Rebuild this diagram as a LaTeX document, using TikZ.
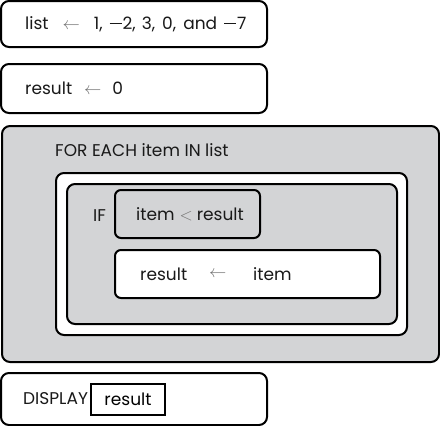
\documentclass[tikz,border=0pt]{standalone}
\usepackage{fontspec}
\setmainfont{Poppins}
\usepackage{tikz}
\usetikzlibrary{positioning}
\definecolor{blockgray}{RGB}{211,212,214}
\newcommand{\getsarrow}{\textcolor{black!55}{$\leftarrow$}}
\newcommand{\mns}{\rule[5pt]{12pt}{1.4pt}\hspace{1pt}}

\begin{document}
\begin{tikzpicture}[x=1pt, y=-1pt, font=\fontsize{17}{20}\selectfont,
  block/.style={draw, line width=2pt, rounded corners=8pt, fill=white, inner sep=0pt},
  grayblock/.style={block, fill=blockgray},
  plainbox/.style={draw, line width=2pt, fill=white, inner sep=0pt},
  txt/.style={anchor=west, inner sep=0pt, text=black!90}]

  \useasboundingbox (0,0) rectangle (440,426);

  % Assignment blocks on top
  \node[block, minimum width=266pt, minimum height=46pt] (LST) at (134,24) {};
  \node[block, minimum width=266pt, minimum height=49pt] (RES) at (134,88.5) {};
  \node[txt] (LSTt) at (25,24) {list\hspace{14pt}\getsarrow\hspace{14pt}1,\hspace{7pt}\mns 2,\hspace{6pt}3,\hspace{7pt}0,\hspace{7pt}and\hspace{7pt}\mns 7};
  \node[txt] (RESt) at (25,88.5) {result\hspace{12pt}\getsarrow\hspace{11pt}0};

  % Loop block with nested IF
  \node[grayblock, minimum width=437pt, minimum height=236pt] (LOOP) at (220.5,244) {};
  \node[txt] (LOOPt) at (55,150) {FOR EACH item IN list};
  \node[block, minimum width=351pt, minimum height=162pt] (FRAME) at (231.5,254) {};
  \node[grayblock, minimum width=330pt, minimum height=140pt] (IFB) at (232,254) {};
  \node[txt] (IFt) at (93,216) {IF};
  \node[grayblock, rounded corners=6pt, minimum width=145pt, minimum height=48pt] (COND) at (187.5,214) {};
  \node[txt] (CONDt) at (136,214) {item\hspace{5pt}\textcolor{black!55}{$<$}\hspace{4pt}result};
  \node[block, rounded corners=6pt, minimum width=265pt, minimum height=48pt] (ASG) at (247.5,274) {};
  \node[txt] (ASGa) at (140,274) {result};
  \node[txt] (ASGb) at (209,274) {\getsarrow};
  \node[txt] (ASGc) at (253,274) {item};

  % Display block
  \node[block, minimum width=266pt, minimum height=52pt] (DSP) at (134,399) {};
  \node[txt] (DSPt) at (23,399) {DISPLAY};
  \node[plainbox, minimum width=74pt, minimum height=31pt] (DSPv) at (128,399.5) {result};
\end{tikzpicture}
\end{document}
